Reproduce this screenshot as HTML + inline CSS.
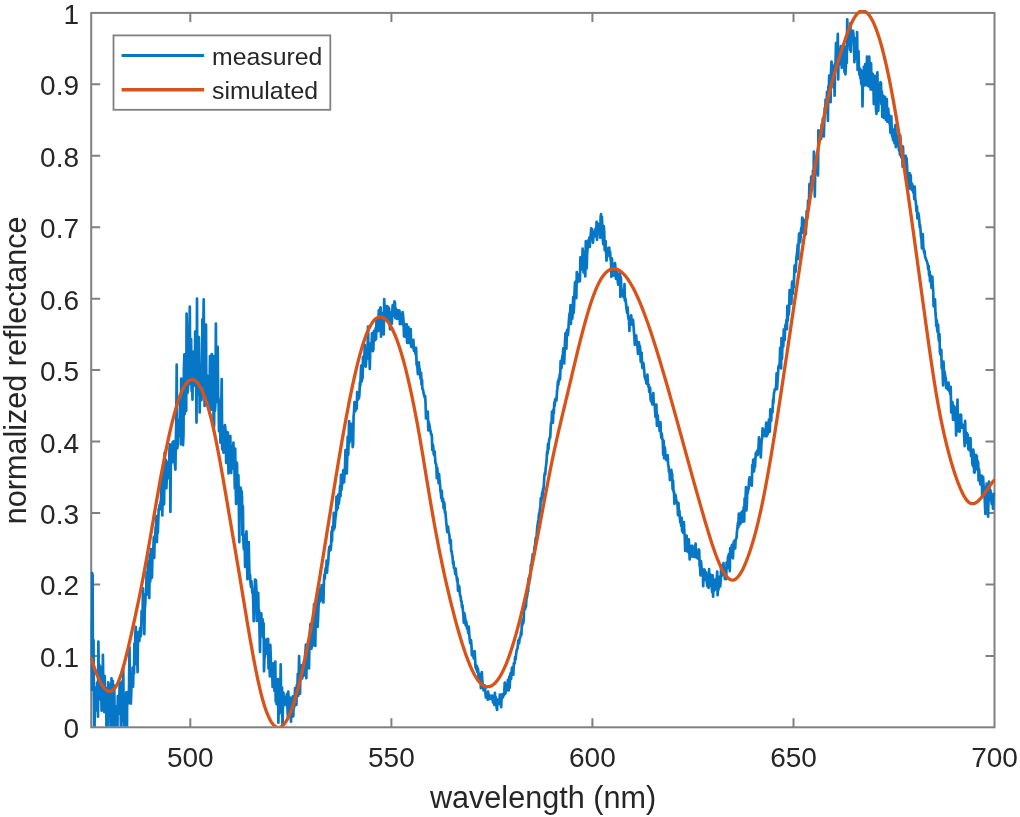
<!DOCTYPE html>
<html><head><meta charset="utf-8"><title>normalized reflectance</title>
<style>
html,body{margin:0;padding:0;background:#fff;}
body{width:1020px;height:817px;overflow:hidden;position:relative;}
svg{position:absolute;left:0;top:0;display:block;}
text{font-family:"Liberation Sans",Arial,sans-serif;fill:#262626;}
</style></head><body>
<svg width="1020" height="817" viewBox="0 0 1020 817">
<rect x="0" y="0" width="1020" height="817" fill="#fff"/>
<g font-size="28">
<text x="79" y="738.3" text-anchor="end">0</text><text x="79" y="666.9" text-anchor="end">0.1</text><text x="79" y="595.4" text-anchor="end">0.2</text><text x="79" y="524" text-anchor="end">0.3</text><text x="79" y="452.5" text-anchor="end">0.4</text><text x="79" y="381.1" text-anchor="end">0.5</text><text x="79" y="309.7" text-anchor="end">0.6</text><text x="79" y="238.2" text-anchor="end">0.7</text><text x="79" y="166.8" text-anchor="end">0.8</text><text x="79" y="95.3" text-anchor="end">0.9</text><text x="79" y="23.9" text-anchor="end">1</text>
<text x="190.3" y="766.7" text-anchor="middle">500</text><text x="391.4" y="766.7" text-anchor="middle">550</text><text x="592.4" y="766.7" text-anchor="middle">600</text><text x="793.5" y="766.7" text-anchor="middle">650</text><text x="994.5" y="766.7" text-anchor="middle">700</text>
</g>
<text x="543" y="808" font-size="30.6" text-anchor="middle">wavelength (nm)</text>
<text transform="translate(26 370.4) rotate(-90)" font-size="30.6" text-anchor="middle">normalized reflectance</text>
<path d="M190.3 727.3V718.3M190.3 12.9V21.9M391.4 727.3V718.3M391.4 12.9V21.9M592.4 727.3V718.3M592.4 12.9V21.9M793.5 727.3V718.3M793.5 12.9V21.9M91.2 655.9H100.2M994.5 655.9H985.5M91.2 584.4H100.2M994.5 584.4H985.5M91.2 513H100.2M994.5 513H985.5M91.2 441.5H100.2M994.5 441.5H985.5M91.2 370.1H100.2M994.5 370.1H985.5M91.2 298.7H100.2M994.5 298.7H985.5M91.2 227.2H100.2M994.5 227.2H985.5M91.2 155.8H100.2M994.5 155.8H985.5M91.2 84.3H100.2M994.5 84.3H985.5" fill="none" stroke="#808080" stroke-width="2"/>
<rect x="91.2" y="12.9" width="903.3" height="714.4" fill="none" stroke="#808080" stroke-width="2"/>
<defs><clipPath id="ax"><rect x="90.6" y="9.9" width="904.5" height="716.5"/></clipPath></defs>
<g clip-path="url(#ax)">
<path d="M91.2 620 L91.7 690 L92.1 573 L92.6 575 L93 690 L93.5 640 L93.9 700 L94.4 760.4 L94.8 689.7 L95.3 687.5 L95.7 710.5 L96.2 708.2 L96.6 703.5 L97.1 682.7 L97.5 700.8 L98 716.7 L98.4 641.6 L98.9 693.9 L99.3 664.8 L99.8 677.6 L100.2 666.7 L100.7 699.8 L101.1 679.1 L101.6 710.8 L102 708.7 L102.5 697.3 L102.9 654.8 L103.4 695.4 L103.8 704.5 L104.3 712.1 L104.7 676 L105.2 697.7 L105.6 687.7 L106.1 691.4 L106.5 729.8 L107 691.9 L107.4 707.9 L107.9 726.8 L108.3 682.3 L108.8 706.8 L109.2 711.5 L109.7 710.7 L110.1 684.5 L110.6 711.2 L111 737.4 L111.5 678.3 L111.9 727.4 L112.4 712.4 L112.8 680.8 L113.3 750.9 L113.7 744.9 L114.2 685.7 L114.6 711.7 L115.1 736.5 L115.5 706.3 L116 724 L116.4 707 L116.9 723.6 L117.3 739.3 L117.8 696.1 L118.2 713.9 L118.7 700.2 L119.1 712.1 L119.6 685.2 L120 682.8 L120.5 700.1 L120.9 727.2 L121.4 732 L121.8 681.5 L122.3 692.1 L122.7 721 L123.2 667.8 L123.6 698 L124.1 704.8 L124.5 730.6 L125 718.8 L125.4 698.5 L125.9 696.8 L126.3 692.3 L126.8 758.5 L127.2 692.4 L127.7 693.3 L128.1 703.5 L128.6 693.1 L129 689.7 L129.5 647.3 L129.9 688.5 L130.4 678.7 L130.8 703.7 L131.3 692.2 L131.7 678.1 L132.2 686.6 L132.6 667.7 L133.1 686.6 L133.5 667.5 L134 673.5 L134.4 643.5 L134.9 664.5 L135.3 633.6 L135.8 626.9 L136.2 648 L136.7 637.9 L137.1 649.1 L137.6 672.1 L138 632.3 L138.5 632.4 L138.9 639.9 L139.4 640.9 L139.8 630.6 L140.3 627.9 L140.7 636.3 L141.2 631.8 L141.6 611.1 L142.1 620 L142.5 618.9 L143 588.4 L143.4 616.7 L143.9 601.1 L144.3 634.1 L144.8 608.4 L145.2 604.6 L145.7 594.1 L146.1 595.2 L146.6 572.4 L147 579.8 L147.5 594.3 L147.9 562.6 L148.4 594.2 L148.8 561.3 L149.3 598.1 L149.7 553.8 L150.2 581.6 L150.6 571.2 L151.1 549 L151.5 578 L152 577.1 L152.4 556.8 L152.9 551.4 L153.3 549.6 L153.8 537.3 L154.2 557.9 L154.7 536.2 L155.1 538.9 L155.6 527.5 L156 526.4 L156.5 516.2 L156.9 542 L157.4 523.2 L157.8 533 L158.3 519.5 L158.7 508.8 L159.2 510.3 L159.6 505.1 L160.1 508.9 L160.5 502.2 L161 500.6 L161.4 486.2 L161.9 479.2 L162.3 515.5 L162.8 487.5 L163.2 466.7 L163.7 494.5 L164.1 504.3 L164.6 452.9 L165 482.5 L165.5 475.6 L165.9 459.9 L166.4 488.3 L166.8 476.9 L167.3 476.3 L167.7 463.1 L168.2 478.2 L168.6 461.8 L169.1 465.7 L169.5 448.6 L170 444.4 L170.4 511.9 L170.9 451.5 L171.3 463.3 L171.8 455.5 L172.2 445.8 L172.7 442.2 L173.1 461.9 L173.6 441.4 L174 442 L174.5 443.1 L174.9 464.6 L175.4 469.6 L175.8 443.4 L176.3 420.8 L176.7 364.7 L177.2 448.4 L177.6 446.4 L178.1 419.8 L178.5 432.5 L179 435.6 L179.4 434.6 L179.9 434.6 L180.3 401.1 L180.8 444.3 L181.2 378.6 L181.7 425.7 L182.1 415.3 L182.6 422.6 L183 445.1 L183.5 434.3 L183.9 369.2 L184.4 354.3 L184.8 414.1 L185.3 367.6 L185.7 390.6 L186.2 410.7 L186.6 313.5 L187.1 335.7 L187.5 392.9 L188 387.9 L188.4 378.4 L188.9 384.4 L189.3 361.4 L189.8 306.7 L190.2 376.8 L190.7 356.3 L191.1 339.1 L191.6 391 L192 376.5 L192.5 399.6 L192.9 352.6 L193.4 360.1 L193.8 351.3 L194.3 353.6 L194.7 385.4 L195.2 331.7 L195.6 382.6 L196.1 381.9 L196.5 422.6 L197 298.7 L197.4 394.4 L197.9 367.7 L198.3 372.1 L198.8 337.1 L199.2 361 L199.7 412.4 L200.1 370.1 L200.6 376.5 L201 365.1 L201.5 400.1 L201.9 371.8 L202.4 319.3 L202.8 356 L203.3 325.4 L203.7 299.4 L204.2 360.7 L204.6 406 L205.1 375.4 L205.5 346.4 L206 324.5 L206.4 402.8 L206.9 379.9 L207.3 377.8 L207.8 376 L208.2 380 L208.7 397.9 L209.1 409 L209.6 385.3 L210 356 L210.5 394 L210.9 366.3 L211.4 409.7 L211.8 354.2 L212.3 382.2 L212.7 386.4 L213.2 356.1 L213.6 429.8 L214.1 424.7 L214.5 366.5 L215 410.8 L215.4 402.6 L215.9 323.6 L216.3 402.2 L216.8 396.4 L217.2 401.1 L217.7 346.8 L218.1 396.3 L218.6 399.9 L219 431.2 L219.5 414.3 L219.9 408.7 L220.4 442.6 L220.8 400.8 L221.3 406.1 L221.7 379.1 L222.2 449.3 L222.6 438.9 L223.1 439.7 L223.5 452.6 L224 430.4 L224.4 431.7 L224.9 425 L225.3 428 L225.8 434.8 L226.2 463 L226.7 447.8 L227.1 439 L227.6 432.1 L228 433.4 L228.5 473.4 L228.9 467.4 L229.4 451.5 L229.8 446.7 L230.3 436 L230.7 455.5 L231.2 473 L231.6 446.2 L232.1 458.9 L232.5 461 L233 468.3 L233.4 442.6 L233.9 466.5 L234.3 458.5 L234.8 488.3 L235.2 448.6 L235.7 487.1 L236.1 504 L236.6 477 L237 462.9 L237.5 489.1 L237.9 488.3 L238.4 475.2 L238.8 500 L239.3 542.2 L239.7 489.2 L240.2 497.6 L240.6 487.7 L241.1 511.2 L241.5 490.8 L242 496.1 L242.4 535 L242.9 506.1 L243.3 539 L243.8 549.2 L244.2 534.5 L244.7 542.7 L245.1 566.9 L245.6 539.9 L246 538.3 L246.5 531.4 L246.9 555.2 L247.4 579.2 L247.8 575.4 L248.3 552.3 L248.7 542.1 L249.2 564.8 L249.6 578.8 L250.1 574.7 L250.5 583.1 L251 586.8 L251.4 581.1 L251.9 587 L252.3 592.6 L252.8 590.8 L253.2 600.8 L253.7 621.1 L254.1 606 L254.6 600.8 L255 579.6 L255.5 609.1 L255.9 580.1 L256.4 589.2 L256.8 620.9 L257.3 620.8 L257.7 611.5 L258.2 592.9 L258.6 612.3 L259.1 610.2 L259.5 629.2 L260 652 L260.4 627.4 L260.9 616.5 L261.3 613.3 L261.8 629.6 L262.2 629.9 L262.7 619.4 L263.1 637.5 L263.6 623.3 L264 671.3 L264.5 655.1 L264.9 657.3 L265.4 639.6 L265.8 653.9 L266.3 645.6 L266.7 646.4 L267.2 648.9 L267.6 638.8 L268.1 639 L268.5 668.5 L269 655.3 L269.4 665 L269.9 676.4 L270.3 644.8 L270.8 658.1 L271.2 671.6 L271.7 675.9 L272.1 668.3 L272.6 687 L273 678.7 L273.5 663.3 L273.9 668.3 L274.4 690.6 L274.8 688 L275.3 661.5 L275.7 701.4 L276.2 694 L276.6 704.1 L277.1 685.2 L277.5 687.5 L278 679.2 L278.4 722.7 L278.9 692.6 L279.3 714 L279.8 689.5 L280.2 699.8 L280.7 664.4 L281.1 695.6 L281.6 711.9 L282 687.7 L282.5 729.1 L282.9 707 L283.4 692.5 L283.8 699.1 L284.3 700.2 L284.7 705.2 L285.2 700.4 L285.6 697.7 L286.1 703.7 L286.5 696.3 L287 693.8 L287.4 706.5 L287.9 717 L288.3 691.7 L288.8 707.7 L289.2 700.8 L289.7 697.3 L290.1 715.9 L290.6 701.5 L291 721.6 L291.5 697.9 L291.9 709.2 L292.4 702.4 L292.8 696.3 L293.3 716.4 L293.7 700.7 L294.2 707.4 L294.6 699.8 L295.1 688.2 L295.5 696.9 L296 697.1 L296.4 704.8 L296.9 684.8 L297.3 692 L297.8 673.8 L298.2 695.8 L298.7 677.1 L299.1 656 L299.6 683.9 L300 693.7 L300.5 666.3 L300.9 669 L301.4 670.7 L301.8 665.4 L302.3 678.4 L302.7 665.3 L303.2 664.6 L303.6 675.6 L304.1 661.1 L304.5 671 L305 655.9 L305.4 652.1 L305.9 644.5 L306.3 678.2 L306.8 655.8 L307.2 659.6 L307.7 654.9 L308.1 657.3 L308.6 652.7 L309 668.5 L309.5 639 L309.9 632.4 L310.4 624.1 L310.8 631 L311.3 648.7 L311.7 647.5 L312.2 629.1 L312.6 623.3 L313.1 631 L313.5 645.2 L314 604.4 L314.4 633.3 L314.9 616.7 L315.3 645.9 L315.8 612.7 L316.2 617.9 L316.7 604.8 L317.1 596.6 L317.6 627 L318 619.7 L318.5 606.6 L318.9 600.2 L319.4 588.9 L319.8 600.3 L320.3 601.4 L320.7 598.7 L321.2 595.4 L321.6 585.1 L322.1 592.2 L322.5 590.2 L323 599.7 L323.4 602.5 L323.9 582.6 L324.3 574.8 L324.8 578.6 L325.2 571.5 L325.7 568 L326.1 571.6 L326.6 560.7 L327 572.7 L327.5 564.1 L327.9 564.8 L328.4 558.6 L328.8 551.5 L329.3 547.2 L329.7 550.9 L330.2 545.8 L330.6 550 L331.1 545.5 L331.5 531.4 L332 541.1 L332.4 526.6 L332.9 530.3 L333.3 530.5 L333.8 512.9 L334.2 528.6 L334.7 526.6 L335.1 521.4 L335.6 516.6 L336 514.4 L336.5 496.6 L336.9 510.1 L337.4 505.2 L337.8 508 L338.3 494.5 L338.7 503.9 L339.2 500.5 L339.6 494.1 L340.1 485.9 L340.5 496.1 L341 474.9 L341.4 490.1 L341.9 485.6 L342.3 483.3 L342.8 481.5 L343.2 470.3 L343.7 470.9 L344.1 482.3 L344.6 471.4 L345 467 L345.5 450.1 L345.9 464.5 L346.4 467.1 L346.8 473.5 L347.3 454.2 L347.7 436.8 L348.2 454.9 L348.6 443.3 L349.1 421.1 L349.5 442.6 L350 424.6 L350.4 423.7 L350.9 426.7 L351.3 439.9 L351.8 423.9 L352.2 426.7 L352.7 447.1 L353.1 444.6 L353.6 416.3 L354 412.7 L354.5 402 L354.9 404.3 L355.4 411 L355.8 408.5 L356.3 404.9 L356.7 408.7 L357.2 392 L357.6 395.6 L358.1 399.7 L358.5 396.3 L359 398.1 L359.4 394.4 L359.9 382.5 L360.3 385.8 L360.8 372.7 L361.2 365.5 L361.7 381.4 L362.1 374.2 L362.6 378.2 L363 357 L363.5 365.8 L363.9 356 L364.4 358 L364.8 344.9 L365.3 358.5 L365.7 366.6 L366.2 360.7 L366.6 351.1 L367.1 354.1 L367.5 358.5 L368 326.5 L368.4 347 L368.9 352 L369.3 351.6 L369.8 369 L370.2 352.2 L370.7 344.2 L371.1 342.8 L371.6 345.3 L372 333.4 L372.5 336.1 L372.9 351.2 L373.4 349.4 L373.8 331.5 L374.3 330.8 L374.7 332.1 L375.2 340.1 L375.6 328.2 L376.1 339 L376.5 318.9 L377 324.1 L377.4 323.1 L377.9 330 L378.3 331.1 L378.8 310.3 L379.2 314.2 L379.7 323.3 L380.1 308.5 L380.6 307.4 L381 336.7 L381.5 326.6 L381.9 326 L382.4 313.2 L382.8 324.4 L383.3 314.1 L383.7 334.5 L384.2 299.2 L384.6 308 L385.1 315.9 L385.5 308.5 L386 318.9 L386.4 315.4 L386.9 306 L387.3 313.5 L387.8 306.7 L388.2 319.6 L388.7 307.5 L389.1 308.9 L389.6 321.5 L390 329.3 L390.5 327.5 L390.9 312.6 L391.4 313.8 L391.8 323.8 L392.3 311.4 L392.7 305.2 L393.2 313.4 L393.6 315.9 L394.1 306.9 L394.5 301.4 L395 303.2 L395.4 318.1 L395.9 308.6 L396.3 313.1 L396.8 315.8 L397.2 318.8 L397.7 310.3 L398.1 318.7 L398.6 310.3 L399 311.3 L399.5 310.6 L399.9 324.2 L400.4 317.7 L400.8 314.1 L401.3 316.9 L401.7 318.3 L402.2 324.2 L402.6 312 L403.1 315.9 L403.5 320.3 L404 336.5 L404.4 328.9 L404.9 324.1 L405.3 329.2 L405.8 336.8 L406.2 326.2 L406.7 324.3 L407.1 342.8 L407.6 335.8 L408 334.7 L408.5 327 L408.9 343 L409.4 343.1 L409.8 338.8 L410.3 340.7 L410.7 329.2 L411.2 346.8 L411.6 340.6 L412.1 344.9 L412.5 347.5 L413 344.4 L413.4 339.8 L413.9 350.8 L414.3 347.4 L414.8 351 L415.2 351.6 L415.7 354.5 L416.1 347.8 L416.6 365 L417 362.8 L417.5 368.4 L417.9 374.1 L418.4 367.9 L418.8 362.4 L419.3 368.3 L419.7 369.2 L420.2 374.3 L420.6 378.9 L421.1 372.8 L421.5 384.5 L422 379.5 L422.4 389 L422.9 389.2 L423.3 391.3 L423.8 394.6 L424.2 395.3 L424.7 397.5 L425.1 395.9 L425.6 404.4 L426 418.4 L426.5 416.8 L426.9 416.9 L427.4 417.1 L427.8 411.7 L428.3 430.3 L428.7 421.9 L429.2 424.4 L429.6 426.1 L430.1 430 L430.5 430.7 L431 434.4 L431.4 433.6 L431.9 436.9 L432.3 450 L432.8 444.6 L433.2 446.6 L433.7 454 L434.1 454.9 L434.6 451.3 L435 456.9 L435.5 463.3 L435.9 463.7 L436.4 465.7 L436.8 478.2 L437.3 468.2 L437.7 473.3 L438.2 473.8 L438.6 483.2 L439.1 474.1 L439.5 481 L440 484.1 L440.4 490.6 L440.9 493 L441.3 498.2 L441.8 490.8 L442.2 501.2 L442.7 500.2 L443.1 498.8 L443.6 508.1 L444 502 L444.5 504.5 L444.9 512.7 L445.4 511.5 L445.8 516.9 L446.3 522.8 L446.7 526.4 L447.2 531.9 L447.6 528.5 L448.1 526.6 L448.5 531.7 L449 533.6 L449.4 535.1 L449.9 543.1 L450.3 542 L450.8 540.1 L451.2 551.4 L451.7 551.2 L452.1 555.2 L452.6 556.9 L453 563.6 L453.5 561.5 L453.9 567.9 L454.4 567.7 L454.8 570 L455.3 574.1 L455.7 568.6 L456.2 575.3 L456.6 576.3 L457.1 581.2 L457.5 578.4 L458 590.6 L458.4 587.9 L458.9 585.9 L459.3 586.5 L459.8 593.5 L460.2 596 L460.7 596.6 L461.1 601.5 L461.6 601.3 L462 607.4 L462.5 605.4 L462.9 609.9 L463.4 615.3 L463.8 622.7 L464.3 613.1 L464.7 615.1 L465.2 617.9 L465.6 625.2 L466.1 621 L466.5 623.2 L467 628.7 L467.4 627.6 L467.9 629.6 L468.3 633.1 L468.8 626.7 L469.2 633.8 L469.7 639.1 L470.1 642.7 L470.6 643.5 L471 640.2 L471.5 646.2 L471.9 655.3 L472.4 653.1 L472.8 652.7 L473.3 651.8 L473.7 658.4 L474.2 656.1 L474.6 651.2 L475.1 658.6 L475.5 667.5 L476 665.1 L476.4 669.6 L476.9 665.8 L477.3 671.8 L477.8 668.3 L478.2 670.5 L478.7 681 L479.1 676.8 L479.6 674.1 L480 676.7 L480.5 679.3 L480.9 688.1 L481.4 679.1 L481.8 672 L482.3 681 L482.7 684.1 L483.2 685.5 L483.6 690.4 L484.1 688.2 L484.5 690.7 L485 685.5 L485.4 692.7 L485.9 697.5 L486.3 694.1 L486.8 693.2 L487.2 693.7 L487.7 699.6 L488.1 691.7 L488.6 694.9 L489 699.1 L489.5 698.8 L489.9 695.6 L490.4 698.5 L490.8 697.1 L491.3 698.8 L491.7 697.8 L492.2 695.5 L492.6 699.3 L493.1 702.5 L493.5 696.9 L494 699.3 L494.4 704.9 L494.9 692.8 L495.3 701 L495.8 697.1 L496.2 704 L496.7 707.7 L497.1 709.9 L497.6 699.5 L498 702.3 L498.5 700.6 L498.9 699.8 L499.4 704 L499.8 694.7 L500.3 701.7 L500.7 697.8 L501.2 707.1 L501.6 697.6 L502.1 694.3 L502.5 696.6 L503 697.4 L503.4 694.5 L503.9 695.2 L504.3 691.2 L504.8 682.5 L505.2 693.9 L505.7 692.3 L506.1 689.6 L506.6 688.6 L507 690.2 L507.5 684.4 L507.9 679.8 L508.4 682.8 L508.8 690.4 L509.3 676.5 L509.7 687.6 L510.2 676 L510.6 673.1 L511.1 678.8 L511.5 673 L512 667.7 L512.4 668.9 L512.9 671.2 L513.3 674.7 L513.8 663.4 L514.2 664.1 L514.7 663.1 L515.1 657 L515.6 659.4 L516 654.9 L516.5 651.3 L516.9 649.3 L517.4 648.9 L517.8 646.6 L518.3 640.4 L518.7 640.7 L519.2 643.1 L519.6 638 L520.1 637.7 L520.5 636.3 L521 632 L521.4 634.7 L521.9 622.8 L522.3 625.3 L522.8 619.3 L523.2 623.3 L523.7 620.3 L524.1 606.6 L524.6 606.9 L525 609.2 L525.5 606.9 L525.9 606.8 L526.4 598.9 L526.8 597.7 L527.3 595.5 L527.7 590.5 L528.2 591.1 L528.6 578.3 L529.1 584.2 L529.5 576.3 L530 579.5 L530.4 573 L530.9 564.8 L531.3 569 L531.8 562.2 L532.2 559.3 L532.7 554.4 L533.1 556 L533.6 554.6 L534 553.2 L534.5 546.7 L534.9 547.3 L535.4 541.1 L535.8 537.8 L536.3 538.8 L536.7 535.1 L537.2 527.8 L537.6 525 L538.1 521.5 L538.5 519.7 L539 513.6 L539.4 516.2 L539.9 508.8 L540.3 508.2 L540.8 498 L541.2 501.5 L541.7 498.4 L542.1 492.6 L542.6 497 L543 488.6 L543.5 489.8 L543.9 484 L544.4 475.5 L544.8 473.1 L545.3 474.2 L545.7 467.9 L546.2 464.6 L546.6 460.2 L547.1 451.8 L547.5 453.9 L548 443.8 L548.4 449.4 L548.9 442.4 L549.3 439.2 L549.8 437.7 L550.2 437.5 L550.7 427 L551.1 422.6 L551.6 422 L552 411.5 L552.5 416.1 L552.9 422.6 L553.4 409.7 L553.8 413.1 L554.3 402.5 L554.7 406 L555.2 399.2 L555.6 398.8 L556.1 398.5 L556.5 400.4 L557 391.5 L557.4 388.4 L557.9 381.3 L558.3 384.9 L558.8 378.9 L559.2 380.6 L559.7 374.4 L560.1 379.2 L560.6 361.2 L561 365.6 L561.5 368.1 L561.9 360.4 L562.4 355.9 L562.8 355.7 L563.3 348.3 L563.7 352.5 L564.2 363.5 L564.6 352.4 L565.1 339.6 L565.5 333.2 L566 335.7 L566.4 348.6 L566.9 331.3 L567.3 329.6 L567.8 335.2 L568.2 332.8 L568.7 324.2 L569.1 318 L569.6 313.4 L570 315.6 L570.5 305 L570.9 324 L571.4 309.1 L571.8 313 L572.3 318.7 L572.7 312.7 L573.2 297.1 L573.6 313 L574.1 306.3 L574.5 292.9 L575 282.4 L575.4 292.5 L575.9 281.3 L576.3 298.2 L576.8 272 L577.2 278.1 L577.7 281.4 L578.1 279.7 L578.6 281.6 L579 279.1 L579.5 274 L579.9 281.2 L580.4 257.3 L580.8 269.9 L581.3 263.3 L581.7 267.3 L582.2 268.2 L582.6 248.6 L583.1 256.8 L583.5 272.5 L584 263.8 L584.4 251.7 L584.9 270.2 L585.3 276.4 L585.8 241.2 L586.2 253.1 L586.7 268.5 L587.1 254.1 L587.6 248.5 L588 243.9 L588.5 240 L588.9 241.4 L589.4 237.6 L589.8 246.9 L590.3 236.6 L590.7 235.3 L591.2 228.3 L591.6 236.6 L592.1 229 L592.5 233.8 L593 242.6 L593.4 236.6 L593.9 237 L594.3 235.2 L594.8 232.3 L595.2 230.4 L595.7 228.5 L596.1 236.2 L596.6 221.9 L597 239.8 L597.5 229.7 L597.9 223.7 L598.4 225.5 L598.8 224.1 L599.3 230.3 L599.7 224 L600.2 237.7 L600.6 217.3 L601.1 214 L601.5 225.6 L602 217.2 L602.4 231.6 L602.9 240.5 L603.3 244.2 L603.8 226.1 L604.2 231.4 L604.7 250.2 L605.1 241.7 L605.6 241.1 L606 249.8 L606.5 260.7 L606.9 254.6 L607.4 248.6 L607.8 251.7 L608.3 255.1 L608.7 248.8 L609.2 247.6 L609.6 256.4 L610.1 251.6 L610.5 258.7 L611 261.2 L611.4 276.8 L611.9 258.3 L612.3 264.2 L612.8 265.3 L613.2 270.4 L613.7 275.4 L614.1 267.4 L614.6 266.8 L615 263.2 L615.5 268.8 L615.9 278.7 L616.4 277 L616.8 272.1 L617.3 274.5 L617.7 280.7 L618.2 284.6 L618.6 279.6 L619.1 282.8 L619.5 275.4 L620 272.5 L620.4 296.9 L620.9 277.3 L621.3 288.7 L621.8 293 L622.2 291.2 L622.7 290.2 L623.1 295.5 L623.6 297.2 L624 297.6 L624.5 284.2 L624.9 300.6 L625.4 298.4 L625.8 301.4 L626.3 306.7 L626.7 310.2 L627.2 312.9 L627.6 307.4 L628.1 316 L628.5 318.7 L629 319.9 L629.4 330.9 L629.9 316.6 L630.3 318 L630.8 324.4 L631.2 315.3 L631.7 324.5 L632.1 322.5 L632.6 324.8 L633 319.8 L633.5 325.5 L633.9 331.2 L634.4 337.1 L634.8 344.8 L635.3 335.2 L635.7 336.8 L636.2 335.5 L636.6 342.8 L637.1 341.4 L637.5 347 L638 353.8 L638.4 347.3 L638.9 342.4 L639.3 346.9 L639.8 345.9 L640.2 348.8 L640.7 361.6 L641.1 358.5 L641.6 352.5 L642 363.7 L642.5 368 L642.9 362.7 L643.4 363 L643.8 366.1 L644.3 372 L644.7 377.1 L645.2 377.7 L645.6 379.6 L646.1 381.1 L646.5 383.6 L647 382.3 L647.4 374.7 L647.9 382.4 L648.3 386 L648.8 384.7 L649.2 391.9 L649.7 388.3 L650.1 387.6 L650.6 399.3 L651 401.2 L651.5 397.5 L651.9 402.3 L652.4 404.5 L652.8 403.2 L653.3 393 L653.7 402.3 L654.2 404.9 L654.6 404.4 L655.1 411.1 L655.5 417 L656 411.6 L656.4 404.6 L656.9 425.7 L657.3 416.9 L657.8 415.3 L658.2 423.3 L658.7 425.8 L659.1 422.8 L659.6 430.9 L660 427.2 L660.5 422.2 L660.9 433.5 L661.4 437.8 L661.8 433.6 L662.3 439.5 L662.7 439.5 L663.2 454.7 L663.6 440.5 L664.1 458.3 L664.5 446.9 L665 448.5 L665.4 453.9 L665.9 456.5 L666.3 460 L666.8 457.9 L667.2 455.8 L667.7 455.2 L668.1 464.4 L668.6 466.6 L669 472 L669.5 469.9 L669.9 480.1 L670.4 478.5 L670.8 474.8 L671.3 469.8 L671.7 473.1 L672.2 474.1 L672.6 489.1 L673.1 480.8 L673.5 491.8 L674 491.2 L674.4 503.8 L674.9 497.3 L675.3 494.7 L675.8 496.5 L676.2 499.9 L676.7 502.5 L677.1 501.6 L677.6 505.9 L678 515.1 L678.5 503.1 L678.9 514.9 L679.4 510.7 L679.8 517.4 L680.3 522.3 L680.7 520.4 L681.2 525.9 L681.6 517.7 L682.1 531.2 L682.5 525.6 L683 532.7 L683.4 532.5 L683.9 522.2 L684.3 531.6 L684.8 537.4 L685.2 551 L685.7 540.4 L686.1 541.6 L686.6 535.6 L687 549 L687.5 551.6 L687.9 544.8 L688.4 544.6 L688.8 539.3 L689.3 550.9 L689.7 559.5 L690.2 551.5 L690.6 554.5 L691.1 551.9 L691.5 545.9 L692 556.5 L692.4 545.9 L692.9 551 L693.3 553.7 L693.8 557 L694.2 555.7 L694.7 556.3 L695.1 547.9 L695.6 543.6 L696 557.3 L696.5 554.8 L696.9 553.1 L697.4 554.2 L697.8 558.5 L698.3 553.5 L698.7 549.4 L699.2 550.2 L699.6 565.4 L700.1 567.4 L700.5 575.5 L701 561.1 L701.4 565.7 L701.9 573.7 L702.3 569.7 L702.8 570.2 L703.2 586.1 L703.7 572.1 L704.1 569.4 L704.6 569.7 L705 579.7 L705.5 578.6 L705.9 572 L706.4 574.5 L706.8 582 L707.3 586.1 L707.7 578.2 L708.2 584.4 L708.6 587.9 L709.1 569.2 L709.5 581.9 L710 585.5 L710.4 581.5 L710.9 574.9 L711.3 581.8 L711.8 588.2 L712.2 592 L712.7 575.3 L713.1 596.7 L713.6 580 L714 589.2 L714.5 590.3 L714.9 589 L715.4 585.1 L715.8 578.9 L716.3 586.6 L716.7 580.2 L717.2 571.7 L717.6 595.2 L718.1 585.2 L718.5 589.7 L719 576.8 L719.4 586.9 L719.9 586.8 L720.3 585.9 L720.8 578.1 L721.2 565.3 L721.7 575.8 L722.1 565.9 L722.6 567.3 L723 574.5 L723.5 563.1 L723.9 571.4 L724.4 570.7 L724.8 578.9 L725.3 575 L725.7 567.8 L726.2 579.2 L726.6 562.3 L727.1 563.1 L727.5 567.6 L728 556.6 L728.4 559.8 L728.9 553.8 L729.3 559 L729.8 571.1 L730.2 548.2 L730.7 555.6 L731.1 549.1 L731.6 546.6 L732 544.8 L732.5 555.7 L732.9 558.4 L733.4 548.4 L733.8 541.5 L734.3 546.5 L734.7 540.3 L735.2 548.5 L735.6 540.1 L736.1 538.6 L736.5 538.5 L737 531.5 L737.4 528.5 L737.9 523.1 L738.3 527.4 L738.8 513.7 L739.2 525.5 L739.7 520.1 L740.1 523.9 L740.6 523.3 L741 512.9 L741.5 514 L741.9 511.7 L742.4 522 L742.8 520.5 L743.3 514.7 L743.7 507.4 L744.2 521.4 L744.6 498.4 L745.1 510.5 L745.5 498.7 L746 487 L746.4 510.3 L746.9 503.5 L747.3 489.5 L747.8 493.1 L748.2 489.4 L748.7 488.9 L749.1 479.6 L749.6 477.4 L750 484.7 L750.5 481.6 L750.9 484.2 L751.4 477.5 L751.8 485.6 L752.3 465.2 L752.7 472 L753.2 459.9 L753.6 461 L754.1 471.3 L754.5 458.8 L755 467 L755.4 459.3 L755.9 452.9 L756.3 454.5 L756.8 452.1 L757.2 450.6 L757.7 455.1 L758.1 453.1 L758.6 445.8 L759 437.4 L759.5 447.3 L759.9 444.2 L760.4 448.5 L760.8 457.4 L761.3 445.3 L761.7 439.7 L762.2 438.1 L762.6 428.3 L763.1 432.3 L763.5 430.7 L764 432.6 L764.4 431.4 L764.9 436.2 L765.3 429.3 L765.8 429.1 L766.2 422.7 L766.7 436.1 L767.1 429 L767.6 434.3 L768 432.9 L768.5 429.9 L768.9 419.5 L769.4 422.9 L769.8 431.6 L770.3 409.4 L770.7 420.1 L771.2 420.9 L771.6 412.2 L772.1 411.9 L772.5 412.3 L773 399.7 L773.4 403 L773.9 393.4 L774.3 391.8 L774.8 389.4 L775.2 389.1 L775.7 388.9 L776.1 386.6 L776.6 373.3 L777 389.2 L777.5 381.6 L777.9 376.2 L778.4 367.1 L778.8 365.6 L779.3 366.1 L779.7 362.4 L780.2 347.6 L780.6 358.5 L781.1 368.5 L781.5 338.2 L782 358.8 L782.4 345.6 L782.9 340.3 L783.3 346.4 L783.8 329.3 L784.2 335.9 L784.7 340 L785.1 328 L785.6 324.5 L786 326.1 L786.5 319.8 L786.9 329.2 L787.4 305.8 L787.8 320.6 L788.3 305.6 L788.7 314.6 L789.2 307.5 L789.6 290.1 L790.1 302.9 L790.5 293.8 L791 294.7 L791.4 303.7 L791.9 284.6 L792.3 281.7 L792.8 293.7 L793.2 282.2 L793.7 287.5 L794.1 276.5 L794.6 265.5 L795 267.1 L795.5 271.9 L795.9 266.8 L796.4 257.5 L796.8 254.6 L797.3 250.6 L797.7 244.7 L798.2 258.9 L798.6 243.6 L799.1 233.6 L799.5 236 L800 242.5 L800.4 240.2 L800.9 231.9 L801.3 227.8 L801.8 231.3 L802.2 217.5 L802.7 218.8 L803.1 232.8 L803.6 222 L804 226.9 L804.5 231.8 L804.9 226 L805.4 219.6 L805.8 234.1 L806.3 221 L806.7 211.1 L807.2 217.6 L807.6 212.9 L808.1 200.5 L808.5 206.4 L809 201.4 L809.4 184.2 L809.9 194.6 L810.3 193 L810.8 189.2 L811.2 176.5 L811.7 184.8 L812.1 184.6 L812.6 183.7 L813 170.6 L813.5 183.5 L813.9 151.6 L814.4 171.1 L814.8 196.6 L815.3 162 L815.7 161.2 L816.2 173.1 L816.6 157.4 L817.1 155.7 L817.5 158 L818 175.4 L818.4 130.4 L818.9 140.8 L819.3 136.6 L819.8 133.3 L820.2 132.9 L820.7 130.5 L821.1 138.9 L821.6 124.7 L822 132 L822.5 132.1 L822.9 118.3 L823.4 124.1 L823.8 136.5 L824.3 120.6 L824.7 108.1 L825.2 111.1 L825.6 99.5 L826.1 108.8 L826.5 112.1 L827 91.8 L827.4 95.4 L827.9 121 L828.3 86.7 L828.8 91.3 L829.2 75.6 L829.7 75.2 L830.1 75.9 L830.6 102.2 L831 72.3 L831.5 61.6 L831.9 66.1 L832.4 68.4 L832.8 84.3 L833.3 68.5 L833.7 87.5 L834.2 65.6 L834.6 95.7 L835.1 63.8 L835.5 66.4 L836 43 L836.4 56.9 L836.9 57.1 L837.3 55 L837.8 33.9 L838.2 79.5 L838.7 48.5 L839.1 53.5 L839.6 56 L840 56.7 L840.5 64.2 L840.9 46.1 L841.4 50.2 L841.8 67.9 L842.3 64.5 L842.7 56.8 L843.2 46.6 L843.6 51.2 L844.1 59.2 L844.5 72.2 L845 46.7 L845.4 74.3 L845.9 65.7 L846.3 50.3 L846.8 62.9 L847.2 19.3 L847.7 32.8 L848.1 36.6 L848.6 45.3 L849 40.9 L849.5 35.3 L849.9 49.8 L850.4 23.1 L850.8 51.7 L851.3 30.3 L851.7 38.4 L852.2 35.5 L852.6 33 L853.1 30.8 L853.5 35.2 L854 46.7 L854.4 62.1 L854.9 54.6 L855.3 38.3 L855.8 41.7 L856.2 41.5 L856.7 58.1 L857.1 32.1 L857.6 70 L858 52.6 L858.5 51 L858.9 65.2 L859.4 74.6 L859.8 68.7 L860.3 78.2 L860.7 69.7 L861.2 83.2 L861.6 84.7 L862.1 71.4 L862.5 106.4 L863 76.4 L863.4 76.4 L863.9 66.5 L864.3 73.8 L864.8 85.5 L865.2 64.2 L865.7 85 L866.1 82.2 L866.6 81.7 L867 56.7 L867.5 78.3 L867.9 86 L868.4 72.1 L868.8 80.8 L869.3 56.7 L869.7 87 L870.2 74.2 L870.6 89.4 L871.1 63.4 L871.5 88.1 L872 79.5 L872.4 89.8 L872.9 73.8 L873.3 77.1 L873.8 104.1 L874.2 76 L874.7 77.7 L875.1 82.2 L875.6 75.9 L876 109.7 L876.5 113.8 L876.9 80.8 L877.4 72.4 L877.8 98.7 L878.3 110.8 L878.7 97.1 L879.2 100.8 L879.6 84.3 L880.1 91.3 L880.5 82.1 L881 82.9 L881.4 104.1 L881.9 91.5 L882.3 117 L882.8 100.2 L883.2 95.7 L883.7 108.6 L884.1 118 L884.6 108.8 L885 96.9 L885.5 114.4 L885.9 120 L886.4 107.1 L886.8 99.2 L887.3 121.6 L887.7 116.5 L888.2 108.7 L888.6 115.7 L889.1 114.4 L889.5 123.7 L890 123.8 L890.4 132.8 L890.9 131.1 L891.3 116.4 L891.8 131.8 L892.2 136.5 L892.7 134.8 L893.1 140.1 L893.6 130.6 L894 129.3 L894.5 143.1 L894.9 131.1 L895.4 125.1 L895.8 147.1 L896.3 136.9 L896.7 140.7 L897.2 134.9 L897.6 136.5 L898.1 138.7 L898.5 144.7 L899 150.3 L899.4 135.2 L899.9 154.6 L900.3 135.5 L900.8 145.9 L901.2 157.1 L901.7 153.8 L902.1 146.6 L902.6 166.7 L903 146.7 L903.5 161.6 L903.9 160.8 L904.4 168.4 L904.8 156.6 L905.3 168.5 L905.7 155.8 L906.2 171.5 L906.6 158.3 L907.1 166.5 L907.5 179.2 L908 172.7 L908.4 173.1 L908.9 188.8 L909.3 177.4 L909.8 173.4 L910.2 182.4 L910.7 175.3 L911.1 187.6 L911.6 189.7 L912 183.7 L912.5 185.5 L912.9 191.1 L913.4 192.5 L913.8 190.5 L914.3 199.2 L914.7 186.7 L915.2 199.7 L915.6 200.3 L916.1 205.2 L916.5 211.3 L917 206.4 L917.4 218.5 L917.9 215.4 L918.3 213.2 L918.8 216.1 L919.2 219.3 L919.7 227.1 L920.1 225.1 L920.6 231 L921 236.8 L921.5 239.1 L921.9 248.3 L922.4 239.2 L922.8 234.2 L923.3 248.1 L923.7 249.2 L924.2 252.7 L924.6 251 L925.1 257 L925.5 257.7 L926 259.1 L926.4 260.2 L926.9 261.6 L927.3 262.9 L927.8 264.7 L928.2 269.1 L928.7 265.9 L929.1 275.5 L929.6 271.3 L930 281.3 L930.5 275.4 L930.9 277.6 L931.4 287.8 L931.8 281.2 L932.3 276.6 L932.7 283.9 L933.2 291.4 L933.6 306.3 L934.1 300.1 L934.5 306.3 L935 299.4 L935.4 312.2 L935.9 317.5 L936.3 326 L936.8 320.3 L937.2 329.6 L937.7 332.3 L938.1 324.7 L938.6 338.5 L939 340.9 L939.5 334 L939.9 351.7 L940.4 354.5 L940.8 352.1 L941.3 349.8 L941.7 368.1 L942.2 363.7 L942.6 370.6 L943.1 385.5 L943.5 361.5 L944 376.2 L944.4 371.3 L944.9 373.9 L945.3 376.2 L945.8 378.6 L946.2 388.1 L946.7 383 L947.1 382.9 L947.6 383.7 L948 389.7 L948.5 382.7 L948.9 387 L949.4 391.3 L949.8 389.7 L950.3 394.3 L950.7 386.9 L951.2 412.4 L951.6 409.1 L952.1 404.2 L952.5 402 L953 419.6 L953.4 407.4 L953.9 405.7 L954.3 409.9 L954.8 411.2 L955.2 420.6 L955.7 411.3 L956.1 435.4 L956.6 407.3 L957 420.3 L957.5 399.5 L957.9 431.2 L958.4 416.1 L958.8 419.4 L959.3 428 L959.7 431.7 L960.2 414.7 L960.6 418.4 L961.1 414.8 L961.5 427.7 L962 427 L962.4 426.2 L962.9 424.8 L963.3 428.2 L963.8 426.5 L964.2 437.4 L964.7 446.1 L965.1 420.9 L965.6 435.9 L966 434.8 L966.5 442.9 L966.9 433 L967.4 440.4 L967.8 434.7 L968.3 449.2 L968.7 445.9 L969.2 445.1 L969.6 450.4 L970.1 447 L970.5 438.2 L971 455.9 L971.4 454.9 L971.9 452.8 L972.3 462.8 L972.8 465.9 L973.2 449.5 L973.7 453.2 L974.1 472.3 L974.6 472.6 L975 457.4 L975.5 455.4 L975.9 454.8 L976.4 463.2 L976.8 456.2 L977.3 469.8 L977.7 461 L978.2 462.8 L978.6 480.4 L979.1 469.4 L979.5 474.6 L980 481.9 L980.4 484.5 L980.9 476.9 L981.3 481 L981.8 475.5 L982.2 496.4 L982.7 489.1 L983.1 476.8 L983.6 486.4 L984 492.9 L984.5 492.1 L984.9 503.5 L985.4 513.9 L985.8 487.3 L986.3 490.9 L986.7 483.5 L987.2 496.1 L987.6 497.7 L988.1 516.6 L988.5 497.5 L989 481.5 L989.4 486.7 L989.9 499.8 L990.3 490 L990.8 493.5 L991.2 498 L991.7 503.9 L992.1 500.6 L992.6 495.5 L993 508.7 L993.5 493.9 L993.9 494.9 L994.4 493.1" fill="none" stroke="#0676C6" stroke-width="2.7" stroke-linejoin="round"/>
<path d="M91.2 658.5 L92.2 661.6 L93.2 664.6 L94.2 667.4 L95.2 670.2 L96.2 672.8 L97.2 675.2 L98.2 677.6 L99.2 679.7 L100.2 681.7 L101.2 683.6 L102.2 685.3 L103.2 686.7 L104.2 688 L105.2 689.1 L106.2 690 L107.2 690.7 L108.2 691.1 L109.2 691.4 L110.2 691.4 L111.2 691.1 L112.2 690.6 L113.2 689.9 L114.2 688.9 L115.2 687.6 L116.2 686 L117.2 684.2 L118.2 682.1 L119.2 679.6 L120.2 676.9 L121.2 674 L122.2 670.8 L123.2 667.4 L124.2 663.7 L125.2 660 L126.2 656 L127.2 651.9 L128.2 647.8 L129.2 643.5 L130.2 639.1 L131.2 634.7 L132.2 630.2 L133.2 625.7 L134.2 621.1 L135.2 616.5 L136.2 611.9 L137.2 607.1 L138.2 602.3 L139.2 597.5 L140.2 592.5 L141.2 587.5 L142.2 582.4 L143.2 577.1 L144.2 571.8 L145.2 566.4 L146.2 560.9 L147.2 555.3 L148.2 549.6 L149.2 543.8 L150.2 538 L151.2 532.2 L152.2 526.3 L153.2 520.5 L154.2 514.6 L155.2 508.8 L156.2 503 L157.2 497.2 L158.2 491.5 L159.2 485.9 L160.2 480.4 L161.2 474.9 L162.2 469.6 L163.2 464.3 L164.2 459.2 L165.2 454.1 L166.2 449.2 L167.2 444.4 L168.2 439.7 L169.2 435.1 L170.2 430.7 L171.2 426.4 L172.2 422.3 L173.2 418.4 L174.2 414.6 L175.2 410.9 L176.2 407.4 L177.2 404.2 L178.2 401.1 L179.2 398.1 L180.2 395.4 L181.2 392.9 L182.2 390.6 L183.2 388.5 L184.2 386.6 L185.2 385 L186.2 383.6 L187.2 382.4 L188.2 381.4 L189.2 380.6 L190.2 380.1 L191.2 379.8 L192.2 379.7 L193.2 379.9 L194.2 380.2 L195.2 380.8 L196.2 381.6 L197.2 382.6 L198.2 383.8 L199.2 385.3 L200.2 386.9 L201.2 388.8 L202.2 390.9 L203.2 393.2 L204.2 395.7 L205.2 398.4 L206.2 401.3 L207.2 404.4 L208.2 407.7 L209.2 411.3 L210.2 415 L211.2 418.9 L212.2 423.1 L213.2 427.4 L214.2 431.9 L215.2 436.7 L216.2 441.5 L217.2 446.6 L218.2 451.8 L219.2 457.1 L220.2 462.5 L221.2 468.1 L222.2 473.7 L223.2 479.4 L224.2 485.2 L225.2 491.1 L226.2 496.9 L227.2 502.8 L228.2 508.7 L229.2 514.6 L230.2 520.5 L231.2 526.4 L232.2 532.3 L233.2 538.1 L234.2 544 L235.2 549.8 L236.2 555.7 L237.2 561.6 L238.2 567.5 L239.2 573.5 L240.2 579.5 L241.2 585.5 L242.2 591.6 L243.2 597.7 L244.2 603.8 L245.2 609.8 L246.2 615.9 L247.2 621.9 L248.2 627.8 L249.2 633.7 L250.2 639.5 L251.2 645.2 L252.2 650.8 L253.2 656.3 L254.2 661.6 L255.2 666.8 L256.2 671.9 L257.2 676.7 L258.2 681.4 L259.2 685.9 L260.2 690.2 L261.2 694.2 L262.2 698 L263.2 701.6 L264.2 704.9 L265.2 708 L266.2 710.9 L267.2 713.5 L268.2 715.9 L269.2 718.1 L270.2 720.1 L271.2 721.8 L272.2 723.3 L273.2 724.5 L274.2 725.6 L275.2 726.4 L276.2 727 L277.2 727.4 L278.2 727.6 L279.2 727.5 L280.2 727.3 L281.2 726.8 L282.2 726.1 L283.2 725.2 L284.2 724.1 L285.2 722.7 L286.2 721.2 L287.2 719.5 L288.2 717.5 L289.2 715.4 L290.2 713 L291.2 710.5 L292.2 707.8 L293.2 704.9 L294.2 701.8 L295.2 698.6 L296.2 695.1 L297.2 691.6 L298.2 687.8 L299.2 683.9 L300.2 679.9 L301.2 675.7 L302.2 671.3 L303.2 666.9 L304.2 662.2 L305.2 657.5 L306.2 652.7 L307.2 647.7 L308.2 642.6 L309.2 637.4 L310.2 632.1 L311.2 626.7 L312.2 621.2 L313.2 615.6 L314.2 609.9 L315.2 604.1 L316.2 598.3 L317.2 592.4 L318.2 586.5 L319.2 580.5 L320.2 574.4 L321.2 568.3 L322.2 562.2 L323.2 556 L324.2 549.8 L325.2 543.6 L326.2 537.4 L327.2 531.1 L328.2 524.9 L329.2 518.6 L330.2 512.4 L331.2 506.1 L332.2 499.9 L333.2 493.7 L334.2 487.5 L335.2 481.4 L336.2 475.3 L337.2 469.2 L338.2 463.2 L339.2 457.3 L340.2 451.4 L341.2 445.6 L342.2 439.8 L343.2 434.1 L344.2 428.5 L345.2 423 L346.2 417.6 L347.2 412.3 L348.2 407 L349.2 401.9 L350.2 396.9 L351.2 392 L352.2 387.2 L353.2 382.5 L354.2 378 L355.2 373.6 L356.2 369.3 L357.2 365.2 L358.2 361.2 L359.2 357.3 L360.2 353.6 L361.2 350.1 L362.2 346.7 L363.2 343.5 L364.2 340.5 L365.2 337.6 L366.2 334.9 L367.2 332.4 L368.2 330.1 L369.2 328 L370.2 326.1 L371.2 324.3 L372.2 322.8 L373.2 321.4 L374.2 320.2 L375.2 319.2 L376.2 318.4 L377.2 317.8 L378.2 317.3 L379.2 317.1 L380.2 317 L381.2 317 L382.2 317.3 L383.2 317.7 L384.2 318.3 L385.2 319 L386.2 320 L387.2 321.1 L388.2 322.3 L389.2 323.7 L390.2 325.3 L391.2 327 L392.2 328.9 L393.2 331 L394.2 333.2 L395.2 335.5 L396.2 338.1 L397.2 340.7 L398.2 343.5 L399.2 346.5 L400.2 349.6 L401.2 352.8 L402.2 356.2 L403.2 359.8 L404.2 363.4 L405.2 367.2 L406.2 371.2 L407.2 375.3 L408.2 379.5 L409.2 383.9 L410.2 388.3 L411.2 392.9 L412.2 397.7 L413.2 402.6 L414.2 407.5 L415.2 412.7 L416.2 417.9 L417.2 423.3 L418.2 428.7 L419.2 434.3 L420.2 440 L421.2 445.9 L422.2 451.8 L423.2 457.8 L424.2 463.9 L425.2 470 L426.2 476.2 L427.2 482.3 L428.2 488.3 L429.2 494.3 L430.2 500.3 L431.2 506.1 L432.2 511.9 L433.2 517.6 L434.2 523.2 L435.2 528.7 L436.2 534.1 L437.2 539.4 L438.2 544.6 L439.2 549.7 L440.2 554.7 L441.2 559.6 L442.2 564.4 L443.2 569.1 L444.2 573.8 L445.2 578.3 L446.2 582.8 L447.2 587.1 L448.2 591.4 L449.2 595.6 L450.2 599.8 L451.2 603.8 L452.2 607.8 L453.2 611.7 L454.2 615.6 L455.2 619.4 L456.2 623.1 L457.2 626.7 L458.2 630.3 L459.2 633.7 L460.2 637.1 L461.2 640.4 L462.2 643.7 L463.2 646.8 L464.2 649.8 L465.2 652.7 L466.2 655.6 L467.2 658.3 L468.2 660.9 L469.2 663.4 L470.2 665.8 L471.2 668.1 L472.2 670.3 L473.2 672.3 L474.2 674.2 L475.2 676 L476.2 677.7 L477.2 679.2 L478.2 680.6 L479.2 681.8 L480.2 682.9 L481.2 683.9 L482.2 684.7 L483.2 685.4 L484.2 686 L485.2 686.4 L486.2 686.6 L487.2 686.8 L488.2 686.7 L489.2 686.6 L490.2 686.3 L491.2 685.9 L492.2 685.3 L493.2 684.6 L494.2 683.8 L495.2 682.9 L496.2 681.8 L497.2 680.5 L498.2 679.2 L499.2 677.7 L500.2 676.1 L501.2 674.4 L502.2 672.5 L503.2 670.5 L504.2 668.4 L505.2 666.1 L506.2 663.8 L507.2 661.3 L508.2 658.7 L509.2 655.9 L510.2 653.1 L511.2 650.1 L512.2 647 L513.2 643.8 L514.2 640.5 L515.2 637.1 L516.2 633.6 L517.2 630 L518.2 626.2 L519.2 622.4 L520.2 618.5 L521.2 614.5 L522.2 610.4 L523.2 606.1 L524.2 601.9 L525.2 597.5 L526.2 593 L527.2 588.4 L528.2 583.8 L529.2 579.1 L530.2 574.3 L531.2 569.4 L532.2 564.5 L533.2 559.4 L534.2 554.4 L535.2 549.2 L536.2 544 L537.2 538.7 L538.2 533.5 L539.2 528.1 L540.2 522.8 L541.2 517.5 L542.2 512.1 L543.2 506.8 L544.2 501.5 L545.2 496.2 L546.2 490.9 L547.2 485.7 L548.2 480.5 L549.2 475.4 L550.2 470.3 L551.2 465.3 L552.2 460.4 L553.2 455.6 L554.2 450.9 L555.2 446.3 L556.2 441.8 L557.2 437.3 L558.2 432.9 L559.2 428.6 L560.2 424.3 L561.2 420.1 L562.2 415.9 L563.2 411.7 L564.2 407.5 L565.2 403.4 L566.2 399.2 L567.2 395 L568.2 390.8 L569.2 386.5 L570.2 382.3 L571.2 378.1 L572.2 373.9 L573.2 369.6 L574.2 365.4 L575.2 361.3 L576.2 357.1 L577.2 353 L578.2 348.9 L579.2 344.9 L580.2 340.9 L581.2 337 L582.2 333.1 L583.2 329.3 L584.2 325.6 L585.2 322 L586.2 318.4 L587.2 314.9 L588.2 311.6 L589.2 308.3 L590.2 305.1 L591.2 302 L592.2 299.1 L593.2 296.3 L594.2 293.6 L595.2 291 L596.2 288.6 L597.2 286.4 L598.2 284.2 L599.2 282.3 L600.2 280.4 L601.2 278.7 L602.2 277.2 L603.2 275.8 L604.2 274.5 L605.2 273.3 L606.2 272.3 L607.2 271.5 L608.2 270.7 L609.2 270.1 L610.2 269.6 L611.2 269.2 L612.2 268.9 L613.2 268.8 L614.2 268.8 L615.2 268.9 L616.2 269.1 L617.2 269.4 L618.2 269.8 L619.2 270.4 L620.2 271 L621.2 271.8 L622.2 272.6 L623.2 273.6 L624.2 274.6 L625.2 275.8 L626.2 277 L627.2 278.3 L628.2 279.7 L629.2 281.3 L630.2 282.9 L631.2 284.5 L632.2 286.3 L633.2 288.1 L634.2 290.1 L635.2 292.1 L636.2 294.2 L637.2 296.3 L638.2 298.5 L639.2 300.8 L640.2 303.2 L641.2 305.6 L642.2 308.1 L643.2 310.7 L644.2 313.3 L645.2 316 L646.2 318.7 L647.2 321.5 L648.2 324.3 L649.2 327.2 L650.2 330.1 L651.2 333.1 L652.2 336.2 L653.2 339.2 L654.2 342.4 L655.2 345.5 L656.2 348.7 L657.2 351.9 L658.2 355.2 L659.2 358.5 L660.2 361.8 L661.2 365.2 L662.2 368.6 L663.2 372 L664.2 375.4 L665.2 378.8 L666.2 382.3 L667.2 385.8 L668.2 389.3 L669.2 392.8 L670.2 396.4 L671.2 399.9 L672.2 403.5 L673.2 407.1 L674.2 410.6 L675.2 414.2 L676.2 417.9 L677.2 421.5 L678.2 425.1 L679.2 428.7 L680.2 432.4 L681.2 436 L682.2 439.6 L683.2 443.3 L684.2 446.9 L685.2 450.6 L686.2 454.2 L687.2 457.9 L688.2 461.5 L689.2 465.1 L690.2 468.7 L691.2 472.4 L692.2 476 L693.2 479.6 L694.2 483.2 L695.2 486.7 L696.2 490.3 L697.2 493.9 L698.2 497.4 L699.2 500.9 L700.2 504.4 L701.2 507.9 L702.2 511.4 L703.2 514.8 L704.2 518.3 L705.2 521.7 L706.2 525 L707.2 528.4 L708.2 531.7 L709.2 535 L710.2 538.2 L711.2 541.3 L712.2 544.4 L713.2 547.4 L714.2 550.3 L715.2 553.1 L716.2 555.8 L717.2 558.4 L718.2 560.9 L719.2 563.3 L720.2 565.6 L721.2 567.7 L722.2 569.7 L723.2 571.5 L724.2 573.2 L725.2 574.7 L726.2 576 L727.2 577.2 L728.2 578.2 L729.2 579 L730.2 579.5 L731.2 579.9 L732.2 580.1 L733.2 580.1 L734.2 579.8 L735.2 579.3 L736.2 578.6 L737.2 577.7 L738.2 576.6 L739.2 575.3 L740.2 573.9 L741.2 572.2 L742.2 570.4 L743.2 568.4 L744.2 566.3 L745.2 564 L746.2 561.5 L747.2 558.9 L748.2 556.2 L749.2 553.4 L750.2 550.4 L751.2 547.3 L752.2 544.1 L753.2 540.7 L754.2 537.2 L755.2 533.6 L756.2 529.8 L757.2 525.9 L758.2 521.8 L759.2 517.5 L760.2 513.1 L761.2 508.6 L762.2 503.8 L763.2 498.9 L764.2 493.9 L765.2 488.7 L766.2 483.4 L767.2 477.9 L768.2 472.4 L769.2 466.7 L770.2 460.9 L771.2 455 L772.2 449 L773.2 442.9 L774.2 436.7 L775.2 430.5 L776.2 424.1 L777.2 417.8 L778.2 411.3 L779.2 404.8 L780.2 398.3 L781.2 391.7 L782.2 385.1 L783.2 378.4 L784.2 371.8 L785.2 365.1 L786.2 358.4 L787.2 351.7 L788.2 344.9 L789.2 338.2 L790.2 331.4 L791.2 324.6 L792.2 317.8 L793.2 311.1 L794.2 304.3 L795.2 297.5 L796.2 290.7 L797.2 283.9 L798.2 277.2 L799.2 270.4 L800.2 263.7 L801.2 256.9 L802.2 250.2 L803.2 243.5 L804.2 236.9 L805.2 230.2 L806.2 223.6 L807.2 217.1 L808.2 210.5 L809.2 204 L810.2 197.5 L811.2 191.1 L812.2 184.7 L813.2 178.4 L814.2 172.2 L815.2 166.1 L816.2 160 L817.2 154 L818.2 148.2 L819.2 142.5 L820.2 136.9 L821.2 131.4 L822.2 126.1 L823.2 120.9 L824.2 115.9 L825.2 111 L826.2 106.3 L827.2 101.9 L828.2 97.5 L829.2 93.4 L830.2 89.4 L831.2 85.5 L832.2 81.7 L833.2 78.1 L834.2 74.5 L835.2 71.1 L836.2 67.7 L837.2 64.4 L838.2 61.1 L839.2 57.9 L840.2 54.7 L841.2 51.6 L842.2 48.5 L843.2 45.4 L844.2 42.4 L845.2 39.4 L846.2 36.6 L847.2 33.8 L848.2 31.1 L849.2 28.6 L850.2 26.2 L851.2 23.9 L852.2 21.8 L853.2 19.8 L854.2 18 L855.2 16.4 L856.2 15 L857.2 13.8 L858.2 12.8 L859.2 12 L860.2 11.4 L861.2 11 L862.2 10.9 L863.2 10.9 L864.2 11.1 L865.2 11.6 L866.2 12.2 L867.2 13 L868.2 14.1 L869.2 15.3 L870.2 16.7 L871.2 18.3 L872.2 20.1 L873.2 22.1 L874.2 24.3 L875.2 26.7 L876.2 29.3 L877.2 32 L878.2 34.9 L879.2 38.1 L880.2 41.3 L881.2 44.8 L882.2 48.5 L883.2 52.3 L884.2 56.3 L885.2 60.5 L886.2 64.8 L887.2 69.4 L888.2 74.1 L889.2 78.9 L890.2 83.9 L891.2 89.1 L892.2 94.4 L893.2 99.9 L894.2 105.5 L895.2 111.2 L896.2 117 L897.2 123 L898.2 129.1 L899.2 135.3 L900.2 141.6 L901.2 148 L902.2 154.5 L903.2 161.1 L904.2 167.8 L905.2 174.6 L906.2 181.4 L907.2 188.3 L908.2 195.3 L909.2 202.3 L910.2 209.4 L911.2 216.5 L912.2 223.7 L913.2 230.9 L914.2 238.2 L915.2 245.5 L916.2 252.8 L917.2 260.1 L918.2 267.4 L919.2 274.8 L920.2 282.1 L921.2 289.4 L922.2 296.8 L923.2 304.1 L924.2 311.4 L925.2 318.7 L926.2 325.9 L927.2 333.1 L928.2 340.3 L929.2 347.4 L930.2 354.4 L931.2 361.3 L932.2 368.1 L933.2 374.7 L934.2 381.2 L935.2 387.4 L936.2 393.5 L937.2 399.4 L938.2 405 L939.2 410.4 L940.2 415.6 L941.2 420.6 L942.2 425.4 L943.2 430.1 L944.2 434.6 L945.2 438.9 L946.2 443.1 L947.2 447.1 L948.2 451 L949.2 454.7 L950.2 458.4 L951.2 461.9 L952.2 465.3 L953.2 468.6 L954.2 471.7 L955.2 474.8 L956.2 477.7 L957.2 480.5 L958.2 483.2 L959.2 485.7 L960.2 488.2 L961.2 490.4 L962.2 492.6 L963.2 494.6 L964.2 496.4 L965.2 498 L966.2 499.5 L967.2 500.7 L968.2 501.8 L969.2 502.6 L970.2 503.2 L971.2 503.6 L972.2 503.7 L973.2 503.7 L974.2 503.5 L975.2 503.1 L976.2 502.5 L977.2 501.8 L978.2 501 L979.2 500 L980.2 498.9 L981.2 497.8 L982.2 496.5 L983.2 495.2 L984.2 493.9 L985.2 492.5 L986.2 491 L987.2 489.6 L988.2 488.1 L989.2 486.7 L990.2 485.3 L991.2 483.9 L992.2 482.6 L993.2 481.4 L994.2 480.2" fill="none" stroke="#D95319" stroke-width="3.3" stroke-linejoin="round" stroke-linecap="round"/>
</g>
<rect x="113.5" y="35.4" width="216.8" height="74.4" fill="#fff" stroke="#808080" stroke-width="1.8"/>
<path d="M121.6 55.6H204.1" stroke="#0676C6" stroke-width="3"/>
<path d="M121.6 89.8H204.1" stroke="#D95319" stroke-width="3.5"/>
<text x="212" y="64.5" font-size="24.8">measured</text>
<text x="212" y="99" font-size="24.8">simulated</text>
</svg>
</body></html>
